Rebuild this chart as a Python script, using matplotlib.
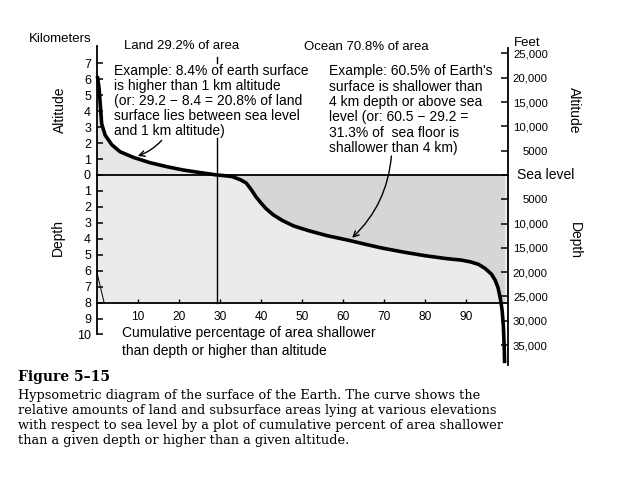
import numpy as np
import matplotlib.pyplot as plt

plt.rcParams['font.family'] = ['Liberation Sans', 'DejaVu Sans']

# hypsometric curve: cumulative % of area vs elevation (km, + up / - down)
pct = [0.2, 0.6, 0.9, 1.26, 2.1, 3.7, 5.7, 9.0, 13.0, 17.1, 21.1, 25.2, 29.2,
       31.0, 33.0, 35.0, 36.4, 37.6, 38.8, 40.0, 41.2, 43.0, 45.2, 48.0, 51.7,
       56.0, 61.4, 65.0, 69.4, 75.0, 79.9, 85.0, 88.8, 91.0, 92.9, 94.5, 96.1,
       97.0, 97.7, 98.3, 98.7, 99.0, 99.2, 99.3]
elev = [6.2, 5.5, 4.5, 3.2, 2.5, 1.9, 1.46, 1.1, 0.77, 0.52, 0.31, 0.15, 0.0,
        -0.04, -0.1, -0.3, -0.5, -0.9, -1.37, -1.75, -2.1, -2.5, -2.85, -3.2, -3.5,
        -3.8, -4.1, -4.32, -4.58, -4.85, -5.06, -5.24, -5.34, -5.45, -5.6, -5.85, -6.22,
        -6.6, -7.07, -7.8, -8.5, -9.5, -10.8, -11.8]

land_pct = 29.2
km_ticks = list(range(-10, 8))
xticks = [10, 20, 30, 40, 50, 60, 70, 80, 90]
ft_ticks = [25000, 20000, 15000, 10000, 5000, 0, -5000, -10000, -15000,
            -20000, -25000, -30000, -35000]
ft_labels = ['25,000', '20,000', '15,000', '10,000', '5000', '',
             '5000', '10,000', '15,000', '20,000', '25,000', '30,000', '35,000']
FT_PER_KM = 3280.84

land_note = ("Example: 8.4% of earth surface\n"
             "is higher than 1 km altitude\n"
             "(or: 29.2 \u2212 8.4 = 20.8% of land\n"
             "surface lies between sea level\n"
             "and 1 km altitude)")
ocean_note = ("Example: 60.5% of Earth's\n"
              "surface is shallower than\n"
              "4 km depth or above sea\n"
              "level (or: 60.5 \u2212 29.2 =\n"
              "31.3% of  sea floor is\n"
              "shallower than 4 km)")
caption = ("Hypsometric diagram of the surface of the Earth. The curve shows the\n"
           "relative amounts of land and subsurface areas lying at various elevations\n"
           "with respect to sea level by a plot of cumulative percent of area shallower\n"
           "than a given depth or higher than a given altitude.")

fs = 9.5
fig = plt.figure(figsize=(6.38, 4.78), dpi=100)
ax = fig.add_axes([0, 0, 1, 1])
ax.set_xlim(-23.48, 131.75)
ax.set_ylim(-19.0, 10.97)

x = np.array(pct)
y = np.array(elev)

# shading
ax.fill_between([0, 100], -8, 0, color='#ebebeb', lw=0, zorder=0)
land = y >= 0
ax.fill_between(x[land], 0, y[land], color='#e6e6e6', lw=0, zorder=0)
ocean = x >= land_pct
ax.fill_between(x[ocean], np.maximum(y[ocean], -8), 0, color='#d6d6d6', lw=0, zorder=0)

# box lines
ax.plot([0, 100], [0, 0], color='black', lw=1.3, zorder=2)
ax.plot([land_pct, land_pct], [-8, 2.3], color='black', lw=1.0, zorder=2)
ax.plot([land_pct, land_pct], [7.05, 7.4], color='black', lw=1.0)
ax.plot([0, 1.8], [-6.0, -7.95], color='black', lw=0.7)

ax.plot(x, y, color='black', lw=2.6, solid_capstyle='butt', zorder=3)

# left (km) axis
for s in ['top', 'right']:
    ax.spines[s].set_visible(False)
ax.spines['left'].set_position(('data', 0))
ax.spines['left'].set_bounds(-10, 8.1)
ax.spines['left'].set_linewidth(1.3)
ax.set_yticks(km_ticks)
ax.set_yticklabels([str(abs(v)) for v in km_ticks])
ax.tick_params(axis='y', direction='in', length=4, width=1.1, pad=4, labelsize=9)

ax.spines['bottom'].set_position(('data', -8))
ax.spines['bottom'].set_bounds(0, 100)
ax.spines['bottom'].set_linewidth(1.3)
ax.set_xticks(xticks)
ax.tick_params(axis='x', direction='in', length=3, width=1, pad=6, labelsize=8.6)

# right (feet) axis
ax2 = ax.twinx()
ax2.set_ylim(-19.0 * FT_PER_KM, 10.97 * FT_PER_KM)
for s in ['top', 'left', 'bottom']:
    ax2.spines[s].set_visible(False)
ax2.spines['right'].set_position(('data', 100))
ax2.spines['right'].set_bounds(-11.9 * FT_PER_KM, 7.95 * FT_PER_KM)
ax2.spines['right'].set_linewidth(1.3)
ax2.set_yticks(ft_ticks)
ax2.set_yticklabels(ft_labels)
ax2.tick_params(axis='y', direction='in', length=5, width=1.1, pad=29, labelsize=8.2)
for lab in ax2.get_yticklabels():
    lab.set_horizontalalignment('right')
ax.text(102.3, 0, 'Sea level', fontsize=10, ha='left', va='center')

# labels
ax.text(-8.9, 8.53, 'Kilometers', fontsize=fs, ha='center', va='center')
ax.text(104.9, 8.29, 'Feet', fontsize=fs, ha='center', va='center')
ax.text(-8.9, 4.08, 'Altitude', fontsize=10, rotation=90, ha='center', va='center')
ax.text(-9.3, -3.95, 'Depth', fontsize=10, rotation=90, ha='center', va='center')
ax.text(116.2, 4.08, 'Altitude', fontsize=10, rotation=-90, ha='center', va='center')
ax.text(116.4, -4.08, 'Depth', fontsize=10, rotation=-90, ha='center', va='center')
ax.text(20.7, 8.1, 'Land 29.2% of area', fontsize=fs, ha='center', va='center')
ax.text(65.6, 8.04, 'Ocean 70.8% of area', fontsize=fs, ha='center', va='center')
ax.text(4.3, 6.93, land_note, fontsize=10, ha='left', va='top', linespacing=1.08)
ax.text(56.6, 6.93, ocean_note, fontsize=10, ha='left', va='top', linespacing=1.12)
ax.text(6.1, -9.5, 'Cumulative percentage of area shallower\nthan depth or higher than altitude',
        fontsize=10, ha='left', va='top', linespacing=1.32)

# arrows
ax.annotate('', xy=(9.4, 1.14), xytext=(16.3, 2.3),
            arrowprops=dict(arrowstyle='->', lw=1.0, color='black',
                            connectionstyle='arc3,rad=-0.15'))
ax.annotate('', xy=(61.7, -4.06), xytext=(71.8, 1.36),
            arrowprops=dict(arrowstyle='->', lw=1.0, color='black',
                            connectionstyle='arc3,rad=-0.2'))

# caption
fig.text(0.028, 0.2107, 'Figure 5\u201315', fontsize=10, fontweight='bold',
         family='DejaVu Serif', ha='left', va='center')
fig.text(0.028, 0.187, caption, fontsize=9.25, family='DejaVu Serif',
         ha='left', va='top', linespacing=1.2)

fig.savefig('out.png', dpi=100)
